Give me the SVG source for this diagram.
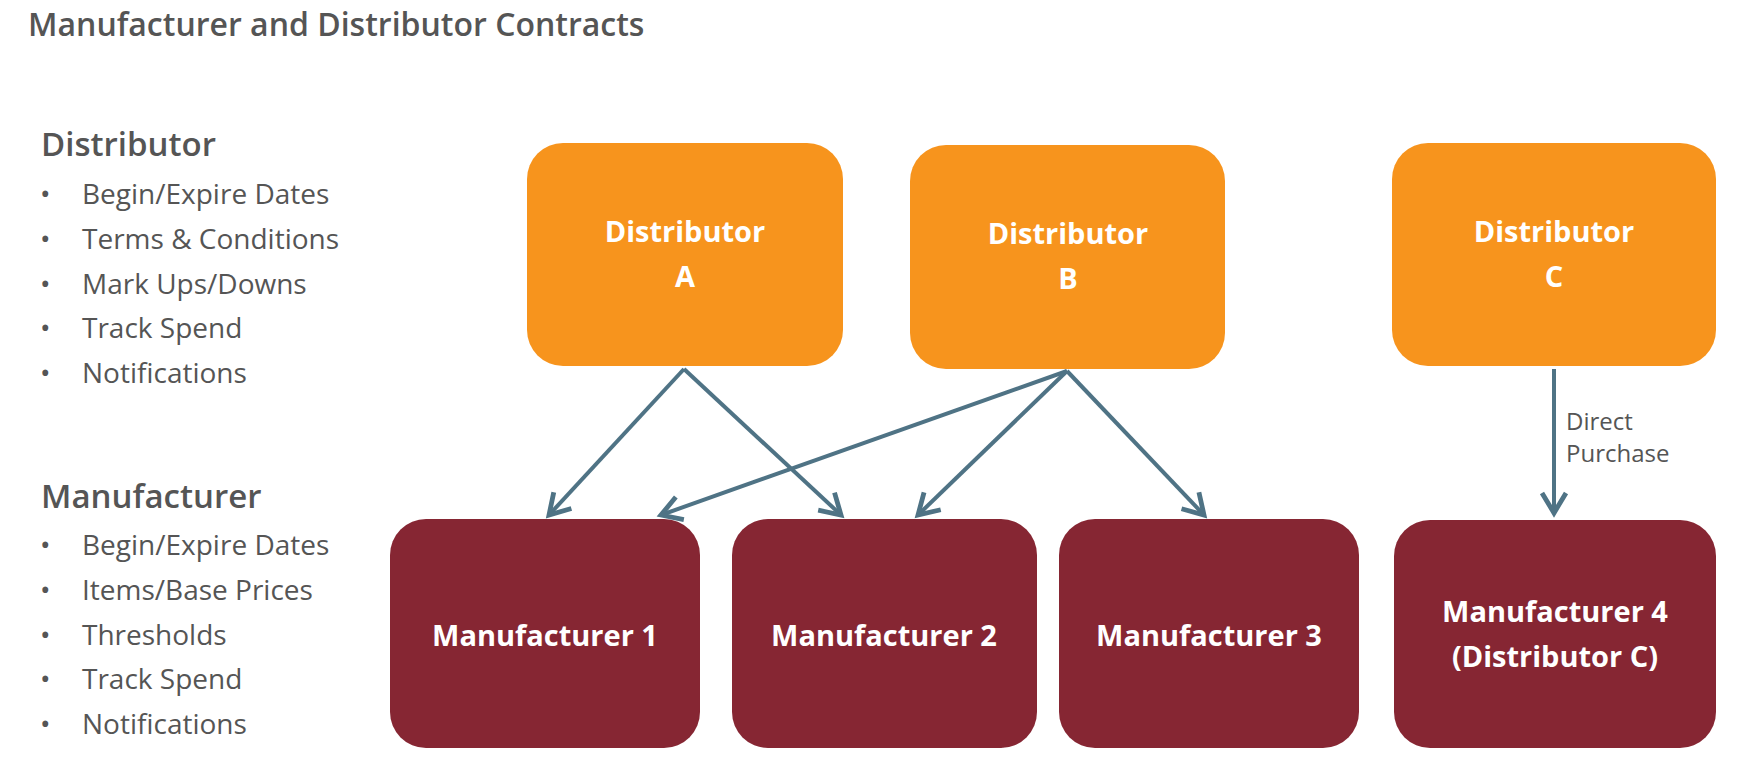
<svg xmlns="http://www.w3.org/2000/svg" width="1752" height="784" viewBox="0 0 1752 784">
<style>
text{font-family:"Open Sans","Noto Sans",sans-serif}
.t{font-size:32px;font-weight:600;fill:#555}
.h{font-size:33px;font-weight:600;fill:#555}
.b{font-size:28px;fill:#555}
.d{fill:#F7941D}
.m{fill:#862633}
.nt{font-size:29px;font-weight:700;fill:#fff;text-anchor:middle}
.c{stroke:#4F7385;stroke-width:4;fill:none;marker-end:url(#a)}
.l{font-size:24px;fill:#555}
</style>
<defs><marker id="a" markerWidth="8" markerHeight="8" refX="6" refY="4" orient="auto" markerUnits="strokeWidth"><path d="M1,1 L6,4 L1,7" fill="none" stroke="#4F7385" stroke-width="1.2"/></marker></defs>
<rect width="1752" height="784" fill="#fff"/>
<text class="t" x="28" y="36">Manufacturer and Distributor Contracts</text>
<g id="legend">
<text class="h" x="41" y="156">Distributor</text>
<g class="b">
<text x="40" y="204">•</text><text x="82" y="204">Begin/Expire Dates</text>
<text x="40" y="249">•</text><text x="82" y="249">Terms &amp; Conditions</text>
<text x="40" y="294">•</text><text x="82" y="294">Mark Ups/Downs</text>
<text x="40" y="338">•</text><text x="82" y="338">Track Spend</text>
<text x="40" y="383">•</text><text x="82" y="383">Notifications</text>
</g>
<text class="h" x="41" y="508">Manufacturer</text>
<g class="b">
<text x="40" y="555">•</text><text x="82" y="555">Begin/Expire Dates</text>
<text x="40" y="600">•</text><text x="82" y="600">Items/Base Prices</text>
<text x="40" y="645">•</text><text x="82" y="645">Thresholds</text>
<text x="40" y="689">•</text><text x="82" y="689">Track Spend</text>
<text x="40" y="734">•</text><text x="82" y="734">Notifications</text>
</g>
</g>
<g id="distA"><rect class="d" x="527" y="143" width="316" height="223" rx="36"/><text class="nt" x="685" y="242">Distributor</text><text class="nt" x="685" y="287">A</text></g>
<g id="distB"><rect class="d" x="910" y="145" width="315" height="224" rx="36"/><text class="nt" x="1068" y="244">Distributor</text><text class="nt" x="1068" y="289">B</text></g>
<g id="distC"><rect class="d" x="1392" y="143" width="324" height="223" rx="36"/><text class="nt" x="1554" y="242">Distributor</text><text class="nt" x="1554" y="287">C</text></g>
<g id="man1"><rect class="m" x="390" y="519" width="310" height="229" rx="36"/><text class="nt" x="545" y="646">Manufacturer  1</text></g>
<g id="man2"><rect class="m" x="732" y="519" width="305" height="229" rx="36"/><text class="nt" x="884" y="646">Manufacturer  2</text></g>
<g id="man3"><rect class="m" x="1059" y="519" width="300" height="229" rx="36"/><text class="nt" x="1209" y="646">Manufacturer  3</text></g>
<g id="man4"><rect class="m" x="1394" y="520" width="322" height="228" rx="36"/><text class="nt" x="1555" y="622">Manufacturer 4</text><text class="nt" x="1555" y="667">(Distributor C)</text></g>
<g id="connectors">
<line class="c" x1="684" y1="369" x2="549" y2="515"/>
<line class="c" x1="684" y1="369" x2="841" y2="515"/>
<line class="c" x1="1067" y1="371" x2="661" y2="515"/>
<line class="c" x1="1067" y1="371" x2="918" y2="515"/>
<line class="c" x1="1067" y1="371" x2="1204" y2="515"/>
<line class="c" x1="1554" y1="369" x2="1554" y2="513"/>
<text class="l" x="1566" y="430">Direct</text>
<text class="l" x="1566" y="462">Purchase</text>
</g>
</svg>
